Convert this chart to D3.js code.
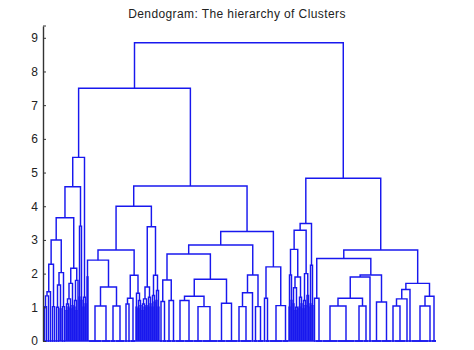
<!DOCTYPE html>
<html>
<head>
<meta charset="utf-8">
<script src="https://cdn.jsdelivr.net/npm/d3@7"></script>
<style>
  html, body { margin: 0; padding: 0; background: #fff; }
  svg { display: block; }
  text { font-family: Arial, "Liberation Sans", sans-serif; }
</style>
</head>
<body>
<div id="chart"></div>
<script>
// Merge tree: each internal node is [height, left, right];
// a bare number is a group of that many points joined at height 0.
const titleText = "Dendogram: The hierarchy of Clusters";
const yTicks = [0, 1, 2, 3, 4, 5, 6, 7, 8, 9];

const groupA1 = [5.45,
  [4.58,
    [3.66,
      [3.0,
        [2.28, [1.46, [1.34, [1.02, 2, 2], 2], 2], [1.02, 2, 2]],
        [2.03, [1.66, [1.0, 2, 2], [0.95, 1, 1]], [1.02, 2, 2]]
      ],
      [2.16,
        [1.71, [1.25, [1.1, [0.9, 1, 1], [1.0, 1, 1]], [0.95, 1, 1]], [1.05, 1, 1]],
        [1.8, [1.2, [1.0, 1, 1], [0.9, 1, 1]], 1]
      ]
    ],
    [3.41, [1.3, 1, 1], [1.2, 1, 1]]
  ],
  [1.3, [1.0, 1, 1], [1.1, 1, 1]]
];

const groupA2 = [4.0,
  [2.7,
    [2.4, [1.9, 1, 1], [1.6, [1.04, 13, 9], [1.04, 5, 9]]],
    [1.95,
      [1.27, [1.1, 3, 3], 5],
      [1.42, [1.0, 1, 1], [1.2, [0.95, 1, 1], [1.05, 1, 1]]]
    ]
  ],
  [3.39,
    [1.6,
      [1.25, [1.1, [0.9, 1, 1], [1.0, 1, 1]], [1.05, 1, 1]],
      [1.3, [1.0, 1, 1], [1.1, 1, 1]]
    ],
    [1.95,
      [1.35, [1.0, 1, 1], [1.15, 1, 1]],
      [1.5, [1.2, 1, 1], [1.0, 1, 1]]
    ]
  ]
];

const groupA3 = [3.25,
  [2.85,
    [2.58,
      [1.81, [1.17, 3, 4], [1.2, 5, 4]],
      [1.83, [1.33, [1.2, 9, 9], [1.02, 9, 15]], [1.12, 8, 12]]
    ],
    [1.96, [1.43, [1.02, 3, 11], 2], [1.02, 4, 6]]
  ],
  [2.2, [1.27, 2, 4], [1.05, 13, 6]]
];

const groupB1 = [3.49,
  [3.29,
    [2.72,
      [1.96, [1.0, 1, 1], [1.2, 1, 1]],
      [1.9,
        [1.58, [1.1, 1, 1], [1.0, [0.9, 1, 1], [0.95, 1, 1]]],
        [1.3, [1.0, 1, 1], [1.1, 1, 1]]
      ]
    ],
    [2.0, [1.2, [0.95, 1, 1], [1.05, 1, 1]], [1.35, 1, [1.0, 1, 1]]]
  ],
  [2.25, [1.1, 1, 1], [1.05, 1, 1]]
];

const groupB2 = [2.7,
  [2.45,
    [1.27, 2, 7],
    [1.96,
      [1.9, [1.27, [1.04, 15, 17], [1.04, 9, 5]], 3],
      [1.16, 10, 10]
    ]
  ],
  [1.71,
    [1.53, [1.25, [1.04, 3, 11], 3], 3],
    [1.33, [1.04, 17, 3], 5]
  ]
];

const tree = [8.85,
  [7.5, groupA1, [4.6, groupA2, groupA3]],
  [4.83, groupB1, groupB2]
];

const width = 474, height = 350;
const lineColor = "#1818ee";

const svg = d3.select("#chart").append("svg")
  .attr("width", width).attr("height", height);

// Build hierarchy and lay out leaves evenly, one slot per point
const root = d3.hierarchy(tree, d => Array.isArray(d) ? d.slice(1) : null);
let cursor = 0;
root.leaves().forEach(l => {
  l.start = cursor;
  l.n = l.data;
  cursor += l.n;
});
const nPoints = cursor;

const x = d3.scaleLinear().domain([0, nPoints - 1]).range([44, 436]);
const y = d3.scaleLinear().domain([0, 9.35]).range([341, 26]);

root.eachAfter(node => {
  if (node.children) {
    node.h = node.data[0];
    node.px = d3.mean(node.children, c => c.px);
  } else {
    node.h = 0;
    node.px = x(node.start + (node.n - 1) / 2);
  }
});

const g = svg.append("g");

// Baseline where points join at zero height
g.append("line")
  .attr("x1", x(0)).attr("x2", x(nPoints - 1))
  .attr("y1", y(0)).attr("y2", y(0))
  .attr("stroke", lineColor).attr("stroke-width", 1.6);

g.selectAll("line.zero")
  .data(root.leaves().filter(l => l.n > 1))
  .join("line")
  .attr("class", "zero")
  .attr("x1", d => x(d.start)).attr("x2", d => x(d.start + d.n - 1))
  .attr("y1", y(0)).attr("y2", y(0))
  .attr("stroke", lineColor).attr("stroke-width", 1.6);

// Elbow links for every merge
g.selectAll("path.link")
  .data(root.descendants().filter(d => d.children))
  .join("path")
  .attr("class", "link")
  .attr("fill", "none")
  .attr("stroke", lineColor)
  .attr("stroke-width", 1.45)
  .attr("d", d => {
    const [a, b] = d.children;
    return `M${a.px},${y(a.h)}V${y(d.h)}H${b.px}V${y(b.h)}`;
  });

// Y axis
const axis = d3.axisLeft(y).tickValues(yTicks).tickFormat(d3.format("d"))
  .tickSizeInner(-3).tickSizeOuter(0).tickPadding(5);
const ax = svg.append("g").attr("transform", "translate(43,0)").call(axis);
ax.select(".domain").attr("stroke", "#333").attr("stroke-width", 1.4);
ax.selectAll(".tick line").attr("stroke", "#333");
ax.selectAll(".tick text").attr("fill", "#222").style("font-size", "12px");
// small cap at the top end of the axis
ax.append("line").attr("x1", 0).attr("x2", 3)
  .attr("y1", y(9.35)).attr("y2", y(9.35)).attr("stroke", "#333");

svg.append("text")
  .attr("x", 237).attr("y", 18)
  .attr("text-anchor", "middle")
  .attr("fill", "#222")
  .style("font-size", "12px")
  .style("letter-spacing", "0.4px")
  .text(titleText);
</script>
</body>
</html>
